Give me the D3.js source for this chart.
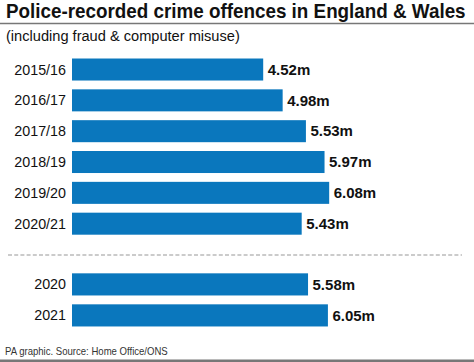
<!DOCTYPE html>
<html>
<head>
<meta charset="utf-8">
<script src="https://cdn.jsdelivr.net/npm/d3@7"></script>
<style>
  body { margin: 0; background: #fff; }
  svg { display: block; font-family: "Liberation Sans", Arial, sans-serif; }
</style>
</head>
<body>
<svg id="chart" width="474" height="362"></svg>
<script>
const width = 474;
const height = 362;

// financial years
const fyCategories = ["2015/16", "2016/17", "2017/18", "2018/19", "2019/20", "2020/21"];
const fyValues = [4.52, 4.98, 5.53, 5.97, 6.08, 5.43];

// calendar years
const cyCategories = ["2020", "2021"];
const cyValues = [5.58, 6.05];

const barColor = "#0a77bd";
const svg = d3.select("#chart");

svg.append("rect").attr("width", width).attr("height", height).attr("fill", "#fff");

// squeeze a text horizontally so it spans the given width
function fitWidth(sel, w) {
  const natural = sel.node().getComputedTextLength();
  const tx = +sel.attr("x"), ty = +sel.attr("y");
  sel.attr("x", 0).attr("y", 0)
    .attr("transform", `translate(${tx},${ty}) scale(${w / natural},1)`);
}

// title + rule
const title = svg.append("text")
  .attr("x", 6).attr("y", 17.8)
  .attr("font-size", 19.5).attr("font-weight", "bold").attr("fill", "#111")
  .text("Police-recorded crime offences in England & Wales");
fitWidth(title, 460);

svg.append("line")
  .attr("x1", 0).attr("x2", width).attr("y1", 23.5).attr("y2", 23.5)
  .attr("stroke", "#777").attr("stroke-width", 1.6);

const sub = svg.append("text")
  .attr("x", 6).attr("y", 41)
  .attr("font-size", 15).attr("fill", "#111")
  .text("(including fraud & computer misuse)");
fitWidth(sub, 234);

const x = d3.scaleLinear().domain([0, 1]).range([72, 72 + 42.3]);

const yTop = d3.scaleBand().domain(fyCategories).range([54.1, 239.1])
  .paddingInner(0.286).paddingOuter(0.143);
const yBottom = d3.scaleBand().domain(cyCategories).range([268.9, 330.9])
  .paddingInner(0.286).paddingOuter(0.143);

function drawGroup(cats, vals, y) {
  const g = svg.append("g");
  const data = cats.map((c, i) => ({ c, v: vals[i] }));

  g.selectAll("rect.bar")
    .data(data)
    .enter()
    .append("rect")
    .attr("class", "bar")
    .attr("x", x(0))
    .attr("y", d => y(d.c))
    .attr("width", d => x(d.v) - x(0))
    .attr("height", y.bandwidth())
    .attr("fill", barColor);

  g.selectAll("text.cat")
    .data(data)
    .enter()
    .append("text")
    .attr("class", "cat")
    .attr("x", 66)
    .attr("y", d => y(d.c) + y.bandwidth() / 2)
    .attr("dy", "0.35em")
    .attr("text-anchor", "end")
    .attr("font-size", 14.3)
    .attr("fill", "#111")
    .text(d => d.c);

  g.selectAll("text.val")
    .data(data)
    .enter()
    .append("text")
    .attr("class", "val")
    .attr("x", d => x(d.v) + 4.5)
    .attr("y", d => y(d.c) + y.bandwidth() / 2)
    .attr("dy", "0.35em")
    .attr("font-size", 15)
    .attr("font-weight", "bold")
    .attr("fill", "#111")
    .text(d => d.v.toFixed(2) + "m");
}

drawGroup(fyCategories, fyValues, yTop);
drawGroup(cyCategories, cyValues, yBottom);

// dashed separator
svg.append("line")
  .attr("x1", 8).attr("x2", 462).attr("y1", 255).attr("y2", 255)
  .attr("stroke", "#bbb").attr("stroke-width", 1.5)
  .attr("stroke-dasharray", "4,2.2");

// footer
const foot = svg.append("text")
  .attr("x", 5).attr("y", 355)
  .attr("font-size", 10.5).attr("fill", "#333")
  .text("PA graphic. Source: Home Office/ONS");
fitWidth(foot, 163);

svg.append("rect")
  .attr("x", 0).attr("y", 359.5).attr("width", width).attr("height", 2.5)
  .attr("fill", "#777");
</script>
</body>
</html>
